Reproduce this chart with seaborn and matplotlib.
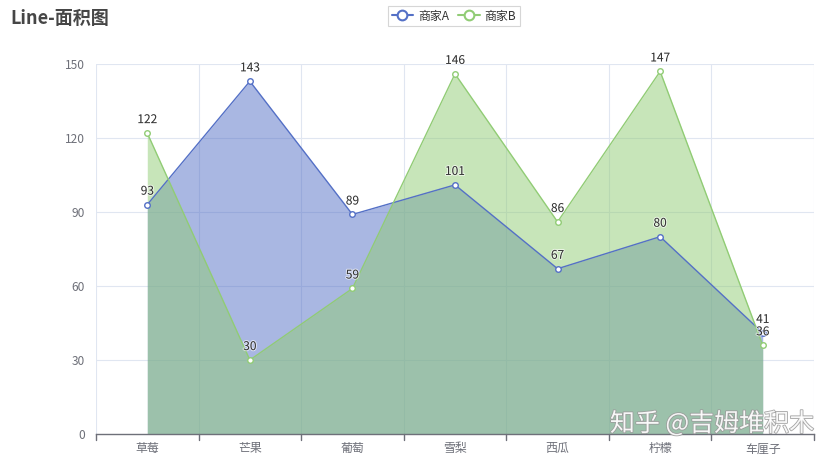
import matplotlib
matplotlib.use("Agg")
import matplotlib.pyplot as plt
import matplotlib.patheffects as pe
import seaborn as sns
import pandas as pd
from matplotlib.lines import Line2D

categories = ["草莓", "芒果", "葡萄", "雪梨", "西瓜", "柠檬", "车厘子"]
series_a = [93, 143, 89, 101, 67, 80, 41]
series_b = [122, 30, 59, 146, 86, 147, 36]
name_a = "商家A"
name_b = "商家B"
y_ticks = [0, 30, 60, 90, 120, 150]
title = "Line-面积图"
watermark = "知乎 @吉姆堆积木"

sns.set_theme(style="white")
plt.rcParams["font.family"] = ["Noto Sans CJK SC", "DejaVu Sans"]

col_a = "#5470c6"
col_b = "#91cc75"
axis_col = "#6e7079"
grid_col = "#e0e6f1"

fig = plt.figure(figsize=(8.36, 4.68), dpi=100)
ax = fig.add_axes([96 / 836, 34 / 468, (814 - 96) / 836, (434 - 64) / 468])

x = list(range(len(categories)))
df = pd.DataFrame({"x": x * 2,
                   "value": series_a + series_b,
                   "series": [name_a] * len(x) + [name_b] * len(x)})

ax.fill_between(x, 0, series_a, color=col_a, alpha=0.5, lw=0, zorder=1)
ax.fill_between(x, 0, series_b, color=col_b, alpha=0.5, lw=0, zorder=1.1)

sns.lineplot(data=df, x="x", y="value", hue="series", palette=[col_a, col_b],
             marker="o", markersize=4, markerfacecolor="white", markeredgewidth=1,
             linewidth=1, ax=ax, zorder=3, legend=False)
for line in ax.get_lines():
    line.set_markeredgecolor(line.get_color())

for vals in (series_a, series_b):
    for xi, v in zip(x, vals):
        ax.annotate(str(v), (xi, v), xytext=(0, 5), textcoords="offset points",
                    ha="center", va="bottom", fontsize=8.6, color="#333333", zorder=5,
                    path_effects=[pe.withStroke(linewidth=1.5, foreground="white", alpha=0.6)])

ax.set_xlim(-0.5, len(categories) - 0.5)
ax.set_ylim(0, 150)
ax.set_yticks(y_ticks)
ax.set_xticks(x)
ax.set_xticklabels(categories)
ax.set_xlabel("")
ax.set_ylabel("")

for b in [i - 0.5 for i in range(len(categories) + 1)]:
    ax.axvline(b, color=grid_col, lw=0.8, zorder=0.5)
for t in y_ticks[1:]:
    ax.axhline(t, color=grid_col, lw=0.8, zorder=0.5)
for b in [i - 0.5 for i in range(len(categories) + 1)]:
    ax.plot([b, b], [0, -2.5], color=axis_col, lw=1, clip_on=False, zorder=4)

for s in ["top", "right", "left"]:
    ax.spines[s].set_visible(False)
ax.spines["bottom"].set_color(axis_col)
ax.spines["bottom"].set_linewidth(1)
ax.spines["bottom"].set_zorder(4)

ax.tick_params(axis="y", length=0, pad=8, labelsize=8.6, labelcolor=axis_col)
ax.tick_params(axis="x", length=0, pad=6, labelsize=8.6, labelcolor=axis_col)

fig.text(10 / 836, 1 - 18 / 468, title, fontsize=13, fontweight="bold", color="#464646",
         ha="left", va="center")

handles = [Line2D([], [], color=col_a, marker="o", markerfacecolor="white", markeredgecolor=col_a,
                  markersize=7, markeredgewidth=1.5, lw=1.5),
           Line2D([], [], color=col_b, marker="o", markerfacecolor="white", markeredgecolor=col_b,
                  markersize=7, markeredgewidth=1.5, lw=1.5)]
leg = fig.legend(handles, [name_a, name_b], loc="center", bbox_to_anchor=(454 / 836, 1 - 16 / 468),
                 ncol=2, frameon=True, fontsize=8.6, handlelength=1.8, handletextpad=0.4,
                 columnspacing=0.8, borderpad=0.3, fancybox=False)
leg.get_frame().set_edgecolor("#cccccc")
leg.get_frame().set_linewidth(0.8)
for t in leg.get_texts():
    t.set_color("#333333")

fig.text(712 / 836, 1 - 424 / 468, watermark, fontsize=18, color="white", alpha=0.9,
         ha="center", va="center", zorder=10,
         path_effects=[pe.withStroke(linewidth=1.2, foreground="#9a9a9a")])

fig.savefig("out.png", dpi=100)
